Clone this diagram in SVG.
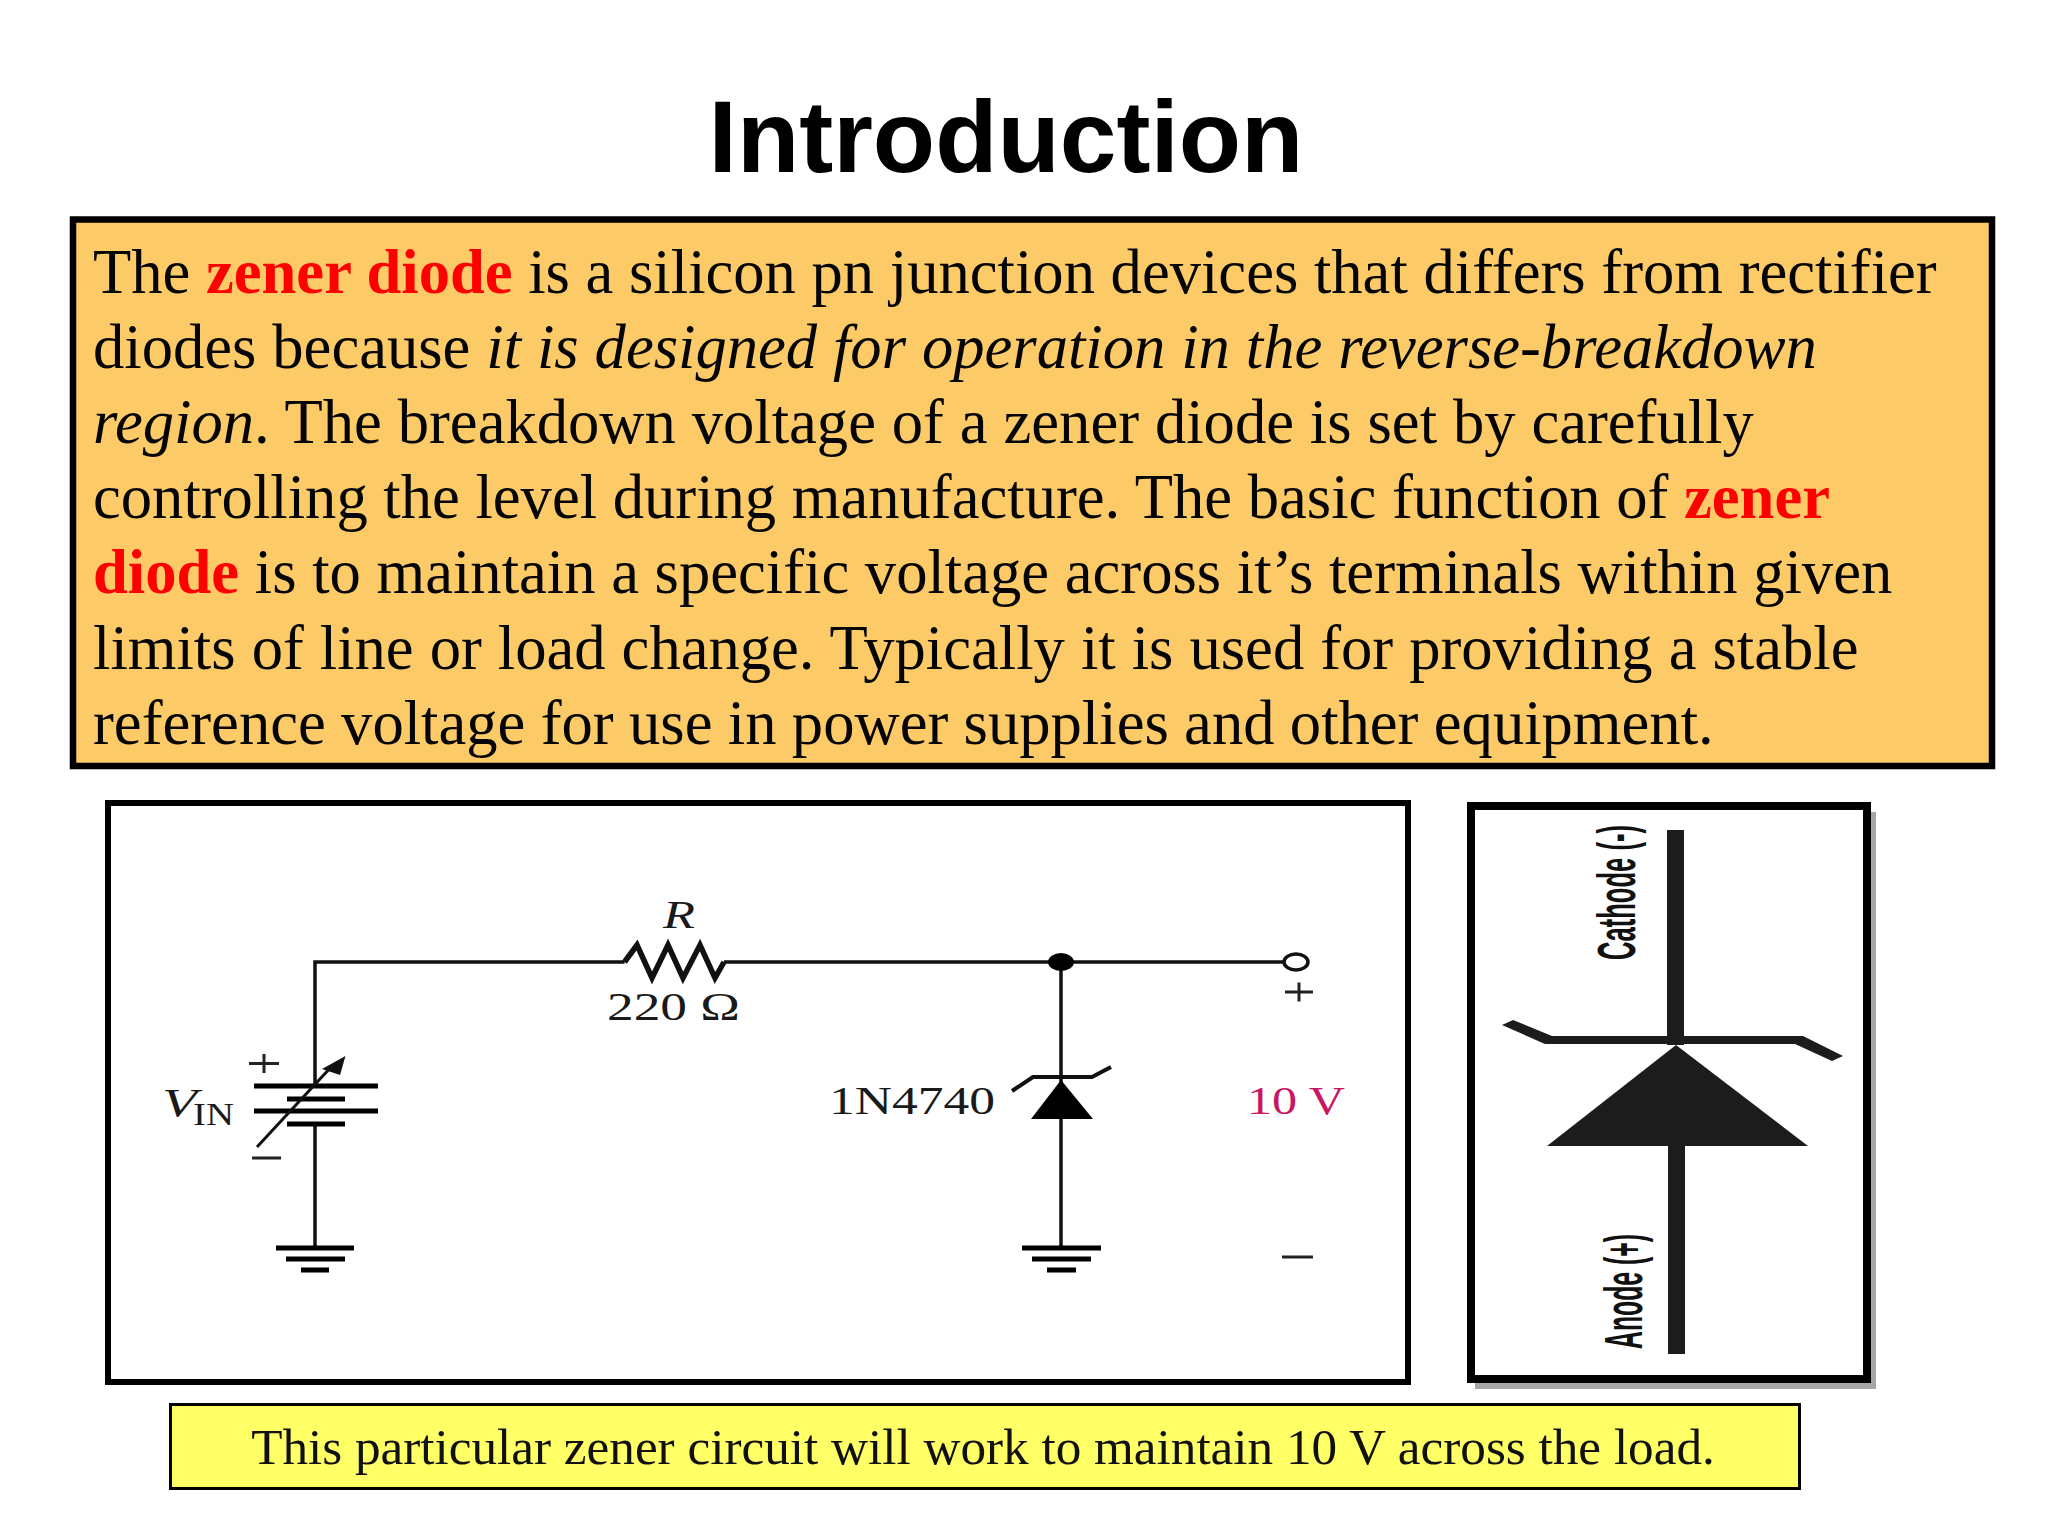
<svg xmlns="http://www.w3.org/2000/svg" width="2048" height="1536" viewBox="0 0 2048 1536">
<style>
.w{fill:none;stroke:#111;stroke-width:3.500}
.b{fill:none;stroke:#000;stroke-width:5}
.s{font-family:"Liberation Serif","Times New Roman",serif;fill:#1a1a1a;font-size:40px}
.t{font-family:"Liberation Serif","Times New Roman",serif;font-size:62.6px;fill:#050505}
.r{fill:#f00;font-weight:bold}
.i{font-style:italic}
.l{font-family:"Liberation Sans",Arial,sans-serif;font-size:54px;font-weight:bold;fill:#111}
</style>
<rect width="2048" height="1536" fill="#fff"/>
<g id="title"><text x="1006" y="172" text-anchor="middle" font-family="Liberation Sans,Arial,sans-serif" font-weight="bold" font-size="102" fill="#000">Introduction</text></g>
<g id="intro-box">
<rect x="73" y="219.500" width="1919" height="546.500" fill="#fdca68" stroke="#000" stroke-width="6.500"/>
<text class="t" x="93" y="293">The <tspan class="r">zener diode</tspan> is a silicon pn junction devices that differs from rectifier</text>
<text class="t" x="93" y="368" word-spacing="0.24">diodes because <tspan class="i">it is designed for operation in the reverse-breakdown</tspan></text>
<text class="t" x="93" y="443" word-spacing="0.24"><tspan class="i">region</tspan>. The breakdown voltage of a zener diode is set by carefully</text>
<text class="t" x="93" y="518">controlling the level during manufacture. The basic function of <tspan class="r">zener</tspan></text>
<text class="t" x="93" y="593">
<tspan class="r">diode</tspan> is to maintain a specific voltage across it’s terminals within given</text>
<text class="t" x="93" y="669" word-spacing="0.37">limits of line or load change. Typically it is used for providing a stable</text>
<text class="t" x="93" y="744" word-spacing="-0.3">reference voltage for use in power supplies and other equipment.</text>
</g>
<g id="circuit-box"><rect x="108" y="803" width="1300" height="579" fill="#fff" stroke="#000" stroke-width="6"/></g>
<g id="connectors">
<path class="w" d="M315 1086V962H624.500M724 962H1283"/>
<path class="w" d="M315 1124V1247"/>
<path class="w" d="M1061 962V1246"/>
</g>
<g id="source">
<path class="b" d="M254 1086H378M254 1111H378M287 1099H345M287 1124H345"/>
<path d="M257 1147L332 1066" fill="none" stroke="#111" stroke-width="3"/>
<polygon points="345.500,1056 322,1069 340,1075" fill="#111"/>
<path d="M249 1063.500H279M264 1054V1073M252 1158H281" fill="none" stroke="#222" stroke-width="3"/>
<text class="s" x="162" y="1116" font-style="italic" textLength="35" lengthAdjust="spacingAndGlyphs">V</text>
<text class="s" x="193" y="1125" style="font-size:31px" textLength="41" lengthAdjust="spacingAndGlyphs">IN</text>
</g>
<g id="ground-1"><path class="b" d="M276 1248H354M286 1259H345M301 1270H329"/></g>
<g id="resistor">
<polyline points="624.500,962 637,945 652,978 668,945 683,978 700,945 715,978 724,962" fill="none" stroke="#111" stroke-width="5.500"/>
<text class="s" x="663" y="928" font-style="italic" textLength="32" lengthAdjust="spacingAndGlyphs">R</text>
<text class="s" x="607" y="1020" textLength="133" lengthAdjust="spacingAndGlyphs">220 Ω</text>
</g>
<g id="zener">
<polygon points="1061,1080 1031,1119 1093,1119" fill="#000"/>
<polyline points="1012,1091 1033,1077 1092,1077 1111,1067" fill="none" stroke="#111" stroke-width="4"/>
<text class="s" x="829" y="1114" textLength="166" lengthAdjust="spacingAndGlyphs">1N4740</text>
</g>
<g id="junction"><ellipse cx="1061" cy="962" rx="13" ry="9" fill="#000"/></g>
<g id="ground-2"><path class="b" d="M1022 1248H1101M1032 1259H1091M1047 1270H1076"/></g>
<g id="output">
<ellipse cx="1296" cy="962" rx="12" ry="8" fill="#fff" stroke="#111" stroke-width="3.500"/>
<path d="M1285 992H1313M1299 982.500V1001.500M1282 1257H1313" fill="none" stroke="#222" stroke-width="3"/>
<text class="s" x="1247" y="1114" textLength="98" lengthAdjust="spacingAndGlyphs" style="fill:#c8175f">10 V</text>
</g>
<g id="symbol-box">
<rect x="1475" y="812" width="401" height="577" fill="#a6a6a6"/>
<rect x="1471" y="806" width="396" height="573" fill="#fff" stroke="#000" stroke-width="8"/>
</g>
<g id="zener-symbol">
<rect x="1667" y="830" width="17" height="215" fill="#1c1c1c"/>
<rect x="1668" y="1146" width="17" height="208" fill="#1c1c1c"/>
<polygon points="1676,1045 1547,1146 1808,1146" fill="#1c1c1c"/>
<polygon points="1502,1025 1513,1020 1552,1036 1803,1036 1843,1056 1832,1061 1795,1044 1545,1044" fill="#1c1c1c"/>
<text class="l" transform="translate(1635 960) rotate(-90)" textLength="135" lengthAdjust="spacingAndGlyphs">Cathode (-)</text>
<text class="l" transform="translate(1642 1349) rotate(-90)" textLength="115" lengthAdjust="spacingAndGlyphs">Anode (+)</text>
</g>
<g id="caption">
<rect x="170.500" y="1404.500" width="1629" height="84" fill="#ffff66" stroke="#000" stroke-width="3"/>
<text x="983" y="1464" text-anchor="middle" font-family="Liberation Serif,Times New Roman,serif" font-size="51.200" fill="#111">This particular zener circuit will work to maintain 10 V across the load.</text>
</g>
</svg>
